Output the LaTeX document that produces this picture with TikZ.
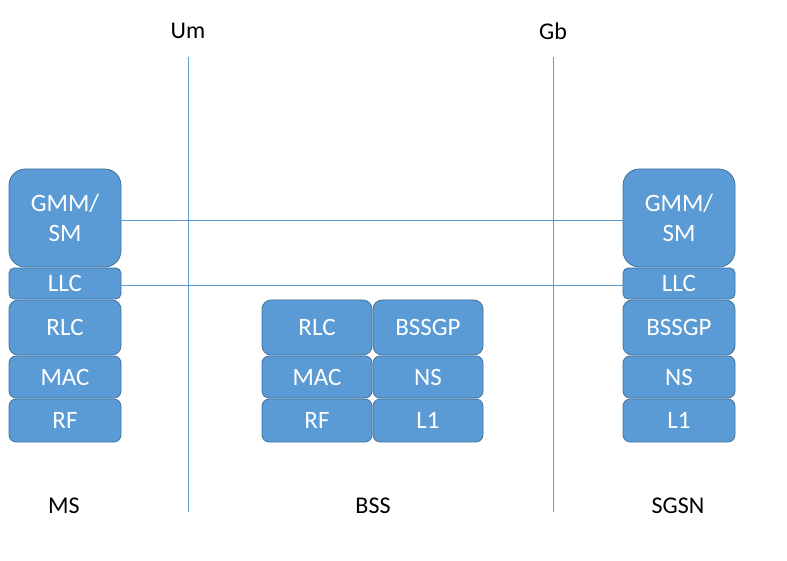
\documentclass[tikz,border=0pt]{standalone}
\usepackage{fontspec}
\setmainfont{Carlito}
\definecolor{boxfill}{HTML}{5B9BD5}
\definecolor{boxline}{HTML}{41719C}
\definecolor{linkline}{HTML}{5B9BD5}
\newcommand{\pbox}[6]{%
  \pgfmathsetmacro\bw{#4-#2}%
  \pgfmathsetmacro\bh{#5-#3}%
  \pgfmathsetmacro\br{0.1667*min(\bw,\bh)}%
  \node[protobox, minimum width=\bw pt, minimum height=\bh pt, rounded corners=\br pt] (#1) at ({(#2+#4)/2},{-(#3+#5)/2}) {#6};}
\begin{document}
\begin{tikzpicture}[x=1pt,y=1pt,
  protobox/.style={draw=boxline, fill=boxfill, line width=0.8pt, inner sep=0pt,
    text=white, font=\fontsize{25}{30}\selectfont, align=center},
  iface/.style={draw=linkline, line width=0.9pt},
  lbl/.style={font=\fontsize{24}{29}\selectfont, text=black, inner sep=0pt}]
\useasboundingbox (0,0) rectangle (787,-561);
\fill[white] (0,0) rectangle (787,-561);
% interface lines
\coordinate (umtop) at (188,-57);
\coordinate (umbot) at (188,-512);
\coordinate (gbtop) at (553,-57);
\coordinate (gbbot) at (553,-512);
\draw[iface] (umtop) -- (umbot);
\draw[iface] (gbtop) -- (gbbot);
% MS stack
\pbox{msgmm}{9}{169}{121}{267}{GMM/\\SM}
\pbox{msllc}{9}{268}{121}{299}{LLC}
\pbox{msrlc}{9}{300}{121}{355}{RLC}
\pbox{msmac}{9}{356}{121}{398}{MAC}
\pbox{msrf}{9}{399}{121}{442}{RF}
% BSS stacks
\pbox{bssrlc}{262}{300}{372}{355}{RLC}
\pbox{bssmac}{262}{356}{372}{398}{MAC}
\pbox{bssrf}{262}{399}{372}{442}{RF}
\pbox{bssbssgp}{373}{300}{483}{355}{BSSGP}
\pbox{bssns}{373}{356}{483}{398}{NS}
\pbox{bssl}{373}{399}{483}{442}{L1}
% SGSN stack
\pbox{sggmm}{623}{169}{735}{267}{GMM/\\SM}
\pbox{sgllc}{623}{268}{735}{299}{LLC}
\pbox{sgbssgp}{623}{300}{735}{355}{BSSGP}
\pbox{sgns}{623}{356}{735}{398}{NS}
\pbox{sgl}{623}{399}{735}{442}{L1}
% peer links
\draw[iface] (msgmm.east |- 0,-220) -- (sggmm.west |- 0,-220);
\draw[iface] (msllc.east |- 0,-285) -- (sgllc.west |- 0,-285);
% labels
\node[lbl] (um) at (188,-31) {Um};
\node[lbl] (gb) at (553,-31) {Gb};
\node[lbl] (ms) at (64,-506) {MS};
\node[lbl] (bss) at (373,-506) {BSS};
\node[lbl] (sgsn) at (678,-506) {SGSN};
\end{tikzpicture}
\end{document}
